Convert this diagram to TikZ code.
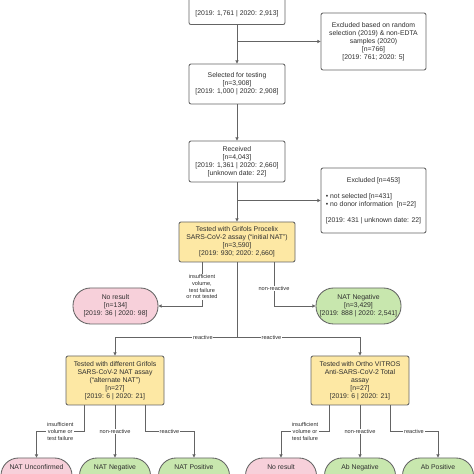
\documentclass[tikz,border=0pt]{standalone}
\usepackage{fontspec}
\setmainfont{Liberation Sans}
\usetikzlibrary{arrows.meta,calc}
\definecolor{edge}{HTML}{646464}
\definecolor{txt}{HTML}{2E2E2E}
\definecolor{yel}{HTML}{FDE8A4}
\definecolor{pnk}{HTML}{F7D0DA}
\definecolor{grn}{HTML}{C8E7AE}
\begin{document}
\begin{tikzpicture}[x=1pt,y=1pt,
  box/.style={draw=edge, line width=0.85pt, rounded corners=2pt, fill=white, align=center,
    font=\fontsize{6.85}{8}\selectfont, text=txt, inner sep=1pt},
  ybox/.style={box, fill=yel},
  pill/.style={draw=edge, line width=0.85pt, rounded corners=17.5pt, minimum height=36pt,
    align=center, font=\fontsize{6.85}{8}\selectfont, text=txt, inner sep=1pt},
  pinkpill/.style={pill, fill=pnk},
  greenpill/.style={pill, fill=grn},
  ln/.style={draw=edge, line width=0.85pt},
  arr/.style={ln, -{Triangle[length=3.2pt,width=3.2pt]}},
  lbl/.style={fill=white, font=\fontsize{5.6}{6.7}\selectfont, text=txt, align=center, inner sep=0.8pt}
]
\useasboundingbox (0,0) rectangle (474,474);

% top chain
\node[box, minimum width=96pt, minimum height=38pt, anchor=south] (src) at (237,449)
  {\strut\\\strut\\{[}2019: 1,761 | 2020: 2,913{]}};
\node[box, minimum width=105pt, minimum height=57pt] (ex1) at (373.5,432.5)
  {Excluded based on random\\selection (2019) \& non-EDTA\\samples (2020)\\{[}n=766{]}\\{[}2019: 761; 2020: 5{]}};
\node[box, minimum width=96pt, minimum height=40pt] (sel) at (237,390)
  {Selected for testing\\{[}n=3,908{]}\\{[}2019: 1,000 | 2020: 2,908{]}};
\node[box, minimum width=96pt, minimum height=41pt] (rec) at (237,312.5)
  {Received\\{[}n=4,043{]}\\{[}2019: 1,361 | 2020: 2,660{]}\\{[}unknown date: 22{]}};
\node[box, minimum width=105pt, minimum height=65pt] (ex2) at (373.5,273.5)
  {\begin{tabular}{@{}l@{}}\multicolumn{1}{@{}c@{}}{Excluded {[}n=453{]}}\\ \\
   • not selected {[}n=431{]}\\
   • no donor information\ \ {[}n=22{]}\\ \\
   {[}2019: 431 | unknown date: 22{]}\end{tabular}};
\node[ybox, minimum width=116pt, minimum height=40pt] (grif) at (237,232)
  {Tested with Grifols Procelix\\SARS-CoV-2 assay (“initial NAT”)\\{[}n=3,590{]}\\{[}2019: 930; 2020: 2,660{]}};

\node[pinkpill, minimum width=85pt] (nores) at (115.5,168)
  {No result\\{[}n=134{]}\\{[}2019: 36 | 2020: 98{]}};
\node[greenpill, minimum width=85pt] (natneg) at (358.5,168)
  {NAT Negative\\{[}n=3,429{]}\\{[}2019: 888 | 2020: 2,541{]}};

\node[ybox, minimum width=98pt, minimum height=49pt] (alt) at (115,93.5)
  {Tested with different Grifols\\SARS-CoV-2 NAT assay\\(“alternate NAT”)\\{[}n=27{]}\\{[}2019: 6 | 2020: 21{]}};
\node[ybox, minimum width=98pt, minimum height=49pt] (ortho) at (360,93.5)
  {Tested with Ortho VITROS\\Anti-SARS-CoV-2 Total\\assay\\{[}n=27{]}\\{[}2019: 6 | 2020: 21{]}};

% bottom row
\node[pinkpill, minimum width=71pt] (unc) at (36.5,-2) {NAT Unconfirmed\\\strut\\\strut};
\node[greenpill, minimum width=71pt] (nneg) at (115,-2) {NAT Negative\\\strut\\\strut};
\node[greenpill, minimum width=71pt] (npos) at (194,-2) {NAT Positive\\\strut\\\strut};
\node[pinkpill, minimum width=71pt] (nores2) at (281,-2) {No result\\\strut\\\strut};
\node[greenpill, minimum width=71pt] (abneg) at (360,-2) {Ab Negative\\\strut\\\strut};
\node[greenpill, minimum width=71pt] (abpos) at (438,-2) {Ab Positive\\\strut\\\strut};

% connectors
\draw[arr] (src.south) -- (sel.north);
\draw[arr] (src.south |- ex1.west) -- (ex1.west);
\draw[arr] (sel.south) -- (rec.north);
\draw[arr] (rec.south |- ex2.west) -- (ex2.west);
\draw[arr] (rec.south) -- (grif.north);

\draw[arr] ([xshift=-35pt]grif.south) |- node[lbl,pos=0.28]{insufficient\\volume,\\test failure\\or not tested} (nores.east);
\draw[arr] ([xshift=37pt]grif.south) |- node[lbl,pos=0.3]{non-reactive} (natneg.west);
\coordinate (split) at ($(grif.south)+(0,-75)$);
\draw[ln] (grif.south) -- (split);
\draw[arr] (split) -| node[lbl,pos=0.14]{reactive} (alt.north);
\draw[arr] (split) -| node[lbl,pos=0.14]{reactive} (ortho.north);

\draw[arr] ([xshift=-31pt]alt.south) |- node[lbl,pos=0.75]{insufficient\\volume or\\test failure} ([yshift=26pt]unc.north) -- (unc.north);
\draw[arr] (alt.south) -- node[lbl]{non-reactive} (nneg.north);
\draw[arr] ([xshift=30pt]alt.south) |- node[lbl,pos=0.75]{reactive} ([yshift=26pt]npos.north) -- (npos.north);

\draw[arr] ([xshift=-31pt]ortho.south) |- node[lbl,pos=0.75]{insufficient\\volume or\\test failure} ([yshift=26pt]nores2.north) -- (nores2.north);
\draw[arr] (ortho.south) -- node[lbl]{non-reactive} (abneg.north);
\draw[arr] ([xshift=30pt]ortho.south) |- node[lbl,pos=0.75]{reactive} ([yshift=26pt]abpos.north) -- (abpos.north);
\end{tikzpicture}
\end{document}
